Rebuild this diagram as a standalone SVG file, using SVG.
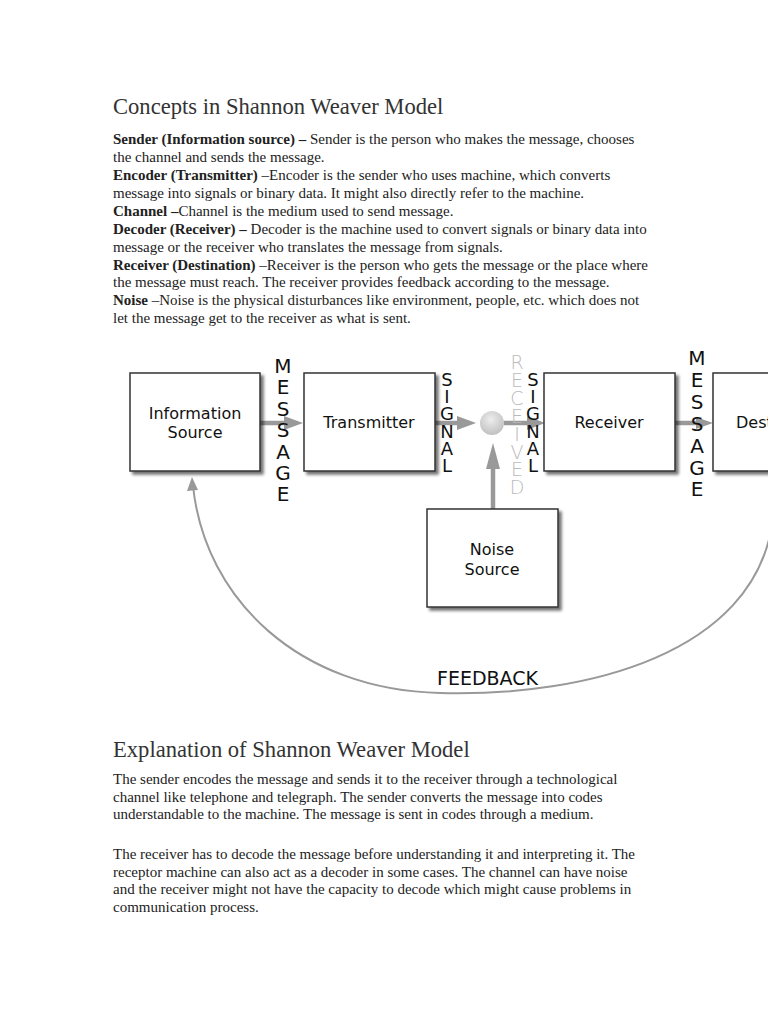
<svg xmlns="http://www.w3.org/2000/svg" width="768" height="1024" viewBox="0 0 768 1024">
<style>
.h{font-family:"Liberation Serif","Times New Roman",serif;font-size:22.6px;fill:#333}
.p{font-family:"Liberation Serif","Times New Roman",serif;font-size:15px;fill:#222}
.b{font-weight:bold}
.box{fill:#fff;stroke:#333;stroke-width:1.5;filter:url(#sh)}
.lbl{font-family:"DejaVu Sans",sans-serif;font-size:16px;fill:#111;text-anchor:middle}
.vt{font-family:"DejaVu Sans",sans-serif;writing-mode:vertical-rl;text-orientation:upright}
.v{font-size:20px;fill:#111}
.vs{font-size:18px;fill:#111}
.vr{font-size:19px;font-weight:200;fill:#bbb}
.ar{stroke:#999;stroke-width:4.5;fill:none}
.fb{stroke:#999;stroke-width:2;fill:none}
</style>
<defs>
<filter id="sh" x="-10%" y="-10%" width="130%" height="130%">
<feDropShadow dx="3" dy="3" stdDeviation="1.8" flood-color="#000" flood-opacity="0.55"/>
</filter>
<radialGradient id="ball" cx="0.45" cy="0.35" r="0.7">
<stop offset="0" stop-color="#ededed"/>
<stop offset="1" stop-color="#bdbdbd"/>
</radialGradient>
</defs>
<rect width="768" height="1024" fill="#fff"/>

<text class="h" x="113" y="114">Concepts in Shannon Weaver Model</text>
<text class="p" x="113" y="144"><tspan class="b">Sender (Information source) –</tspan> Sender is the person who makes the message, chooses</text>
<text class="p" x="113" y="162">the channel and sends the message.</text>
<text class="p" x="113" y="180"><tspan class="b">Encoder (Transmitter)</tspan> –Encoder is the sender who uses machine, which converts</text>
<text class="p" x="113" y="198">message into signals or binary data. It might also directly refer to the machine.</text>
<text class="p" x="113" y="216"><tspan class="b">Channel –</tspan>Channel is the medium used to send message.</text>
<text class="p" x="113" y="234"><tspan class="b">Decoder (Receiver) –</tspan> Decoder is the machine used to convert signals or binary data into</text>
<text class="p" x="113" y="252">message or the receiver who translates the message from signals.</text>
<text class="p" x="113" y="270"><tspan class="b">Receiver (Destination)</tspan> –Receiver is the person who gets the message or the place where</text>
<text class="p" x="113" y="287">the message must reach. The receiver provides feedback according to the message.</text>
<text class="p" x="113" y="305"><tspan class="b">Noise</tspan> –Noise is the physical disturbances like environment, people, etc. which does not</text>
<text class="p" x="113" y="323">let the message get to the receiver as what is sent.</text>

<g id="connectors">
<path class="fb" d="M 772 525 C 752 652, 590 697, 440 693 C 300 690, 205 600, 193 486"/>
<polygon points="192,477 187,491 198,490" fill="#999"/>
<line class="ar" x1="260" y1="423" x2="286" y2="423"/>
<polygon points="303,423 284,416 284,430" fill="#999"/>
<line class="ar" x1="435" y1="423" x2="460" y2="423"/>
<polygon points="476,423 457,416 457,430" fill="#999"/>
<line class="ar" x1="504" y1="423" x2="530" y2="423"/>
<polygon points="545,423 527,416 527,430" fill="#999"/>
<line class="ar" x1="675" y1="423" x2="698" y2="423"/>
<polygon points="713,423 696,417 696,429" fill="#999"/>
<line class="ar" x1="493" y1="509" x2="493" y2="466"/>
<polygon points="493,443 486,469 500,469" fill="#999"/>
</g>

<circle cx="492" cy="423" r="12" fill="url(#ball)"/>

<g id="information-source">
<rect class="box" x="130" y="373" width="130" height="98"/>
<text class="lbl" x="195" y="419">Information</text>
<text class="lbl" x="195" y="438">Source</text>
</g>
<g id="transmitter">
<rect class="box" x="304" y="373" width="131" height="98"/>
<text class="lbl" x="369" y="428">Transmitter</text>
</g>
<g id="receiver">
<rect class="box" x="544" y="373" width="131" height="98"/>
<text class="lbl" x="609" y="428">Receiver</text>
</g>
<g id="destination">
<rect class="box" x="713" y="373" width="131" height="98"/>
<text class="lbl" x="736" y="428" style="text-anchor:start">Destination</text>
</g>
<g id="noise-source">
<rect class="box" x="427" y="509" width="131" height="98"/>
<text class="lbl" x="492" y="555">Noise</text>
<text class="lbl" x="492" y="575">Source</text>
</g>

<g id="labels">
<text class="vt v" x="283" y="354" style="letter-spacing:-2.6px">MESSAGE</text>
<text class="vt vs" x="447" y="369" style="letter-spacing:-3.8px">SIGNAL</text>
<text class="vt vr" x="517" y="351" style="letter-spacing:-4.1px">RECEIVED</text>
<text class="vt vs" x="533" y="369" style="letter-spacing:-3.8px">SIGNAL</text>
<text class="vt v" x="697" y="346" style="letter-spacing:-2.1px">MESSAGE</text>
<text x="437" y="685" style="font-family:'DejaVu Sans',sans-serif;font-size:19px;fill:#111">FEEDBACK</text>
</g>

<text class="h" x="113" y="757">Explanation of Shannon Weaver Model</text>
<text class="p" x="113" y="784">The sender encodes the message and sends it to the receiver through a technological</text>
<text class="p" x="113" y="802">channel like telephone and telegraph. The sender converts the message into codes</text>
<text class="p" x="113" y="819">understandable to the machine. The message is sent in codes through a medium.</text>
<text class="p" x="113" y="859">The receiver has to decode the message before understanding it and interpreting it. The</text>
<text class="p" x="113" y="877">receptor machine can also act as a decoder in some cases. The channel can have noise</text>
<text class="p" x="113" y="894">and the receiver might not have the capacity to decode which might cause problems in</text>
<text class="p" x="113" y="912">communication process.</text>
</svg>
